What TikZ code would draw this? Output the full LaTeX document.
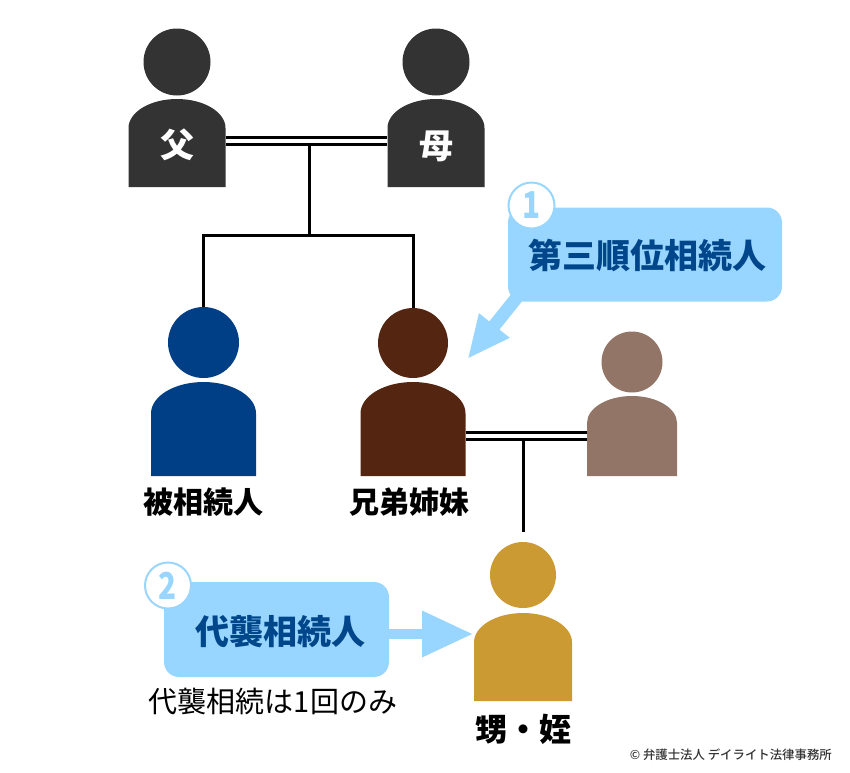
\documentclass[tikz,border=0pt]{standalone}
\usepackage{fontspec}
\newfontfamily\cjk{Noto Sans CJK JP}
\newfontfamily\cjkmedium{Noto Sans CJK JP Medium}
\usetikzlibrary{arrows.meta, calc, positioning}
\definecolor{darkgray}{RGB}{51,51,51}
\definecolor{deepblue}{RGB}{0,63,133}
\definecolor{darkbrown}{RGB}{84,37,17}
\definecolor{softbrown}{RGB}{146,117,103}
\definecolor{ochre}{RGB}{203,154,50}
\definecolor{skyblue}{RGB}{153,214,255}
\definecolor{navytext}{RGB}{0,70,139}
\tikzset{
    kinline/.style={line width=3pt, black},
    marriage/.style={line width=3pt, black, double=white, double distance=3.6pt},
    callout/.style={fill=skyblue, rounded corners=15pt, inner sep=0pt, minimum height=94pt},
    callouttext/.style={font=\cjk\bfseries\fontsize{34}{34}\selectfont, text=navytext, inner sep=0pt},
    badge/.style={circle, draw=skyblue, line width=2pt, fill=white, minimum size=46pt, inner sep=0pt, text=skyblue, font=\cjk\bfseries\fontsize{37}{37}\selectfont},
    kinlabel/.style={font=\cjk\bfseries\fontsize{30}{30}\selectfont, inner sep=0pt},
    bodylabel/.style={font=\cjk\bfseries\fontsize{34}{34}\selectfont, text=white, inner sep=0pt},
}
% name, centre x, head y, head radius, half width, body top, body bottom, colour
\newcommand{\person}[8]{
    \node[circle, fill=#8, minimum size=2*#4 pt, inner sep=0pt] (#1head) at (#2,#3) {};
    \pgfmathsetmacro{\shoulder}{0.6*#5}
    \fill[#8] (#2-#5,#7) -- (#2-#5,#6+\shoulder) arc[start angle=180, end angle=360, x radius=#5, y radius=\shoulder] -- (#2+#5,#7) -- cycle;
    \node[minimum width=2*#5 pt, minimum height=#7 pt-#6 pt, inner sep=0pt] (#1) at (#2,{(#6+#7)/2}) {};
}
\begin{document}
\begin{tikzpicture}[x=1pt, y=-1pt, >=Stealth]
    \useasboundingbox (0,0) rectangle (850,772);

    % People
    \person{father}{177}{62}{33.5}{48.5}{99}{187}{darkgray}
    \person{mother}{436}{62}{33.5}{48.5}{99}{187}{darkgray}
    \person{deceased}{203.5}{342.5}{35.5}{52.5}{382}{476}{deepblue}
    \person{sibling}{413}{343}{35}{52.5}{382}{476}{darkbrown}
    \person{spouse}{632}{362}{30.5}{45}{396}{476}{softbrown}
    \person{child}{523}{575}{33}{49}{613}{701}{ochre}

    % Labels on and under the people
    \node[bodylabel] (fatherlabel) at (177,145) {父};
    \node[bodylabel] (motherlabel) at (436,146) {母};
    \node[kinlabel] (deceasedlabel) at (203,502) {被相続人};
    \node[kinlabel] (siblinglabel) at (409,502) {兄弟姉妹};
    \node[kinlabel, font=\cjk\bfseries\fontsize{32}{32}\selectfont] (childlabel) at (523,729) {甥・姪};

    % Parents and their children
    \coordinate (parentsjoin) at (309,144);
    \coordinate (parentsfork) at (309,235.5);
    \draw[marriage] ([yshift=2pt]father.east) -- ([yshift=2pt]mother.west);
    \draw[kinline] (parentsjoin) -- (parentsfork);
    \draw[kinline] (deceasedhead.north) |- (parentsfork) -| (siblinghead.north);

    % Sibling, spouse and child
    \coordinate (spousejoin) at (523,438);
    \draw[marriage] (sibling.east |- spouse.east) -- (spouse.west);
    \draw[kinline, shorten >=10pt] (spousejoin) -- (childhead.north);

    % First callout
    \coordinate (thirdfoot) at (518,296);
    \coordinate (thirdtip) at (467.5,359);
    \draw[-{Triangle[length=43pt, width=36pt]}, line width=13pt, skyblue] (thirdfoot) -- (thirdtip);
    \node[callout, minimum width=274pt] (thirdbox) at (645,254.5) {};
    \node[callouttext] (thirdtext) at (647,255) {第三順位相続人};
    \node[badge] (thirdbadge) at (531.5,205.5) {\scalebox{.8}[1]{1}};

    % Second callout
    \coordinate (subtip) at (473,634);
    \node[callout, minimum width=225pt, minimum height=95pt] (subbox) at (276.5,629.5) {};
    \node[callouttext] (subtext) at (280,632) {代襲相続人};
    \draw[-{Triangle[length=51pt, width=44pt]}, line width=10pt, skyblue] (subtip -| subbox.east) -- (subtip);
    \node[badge] (subbadge) at (168,585.5) {\scalebox{.8}[1]{2}};
    \node[font=\cjk\fontsize{29}{29}\selectfont, inner sep=0pt] (subnote) at (273,701) {代襲相続は1回のみ};

    % Credit
    \node[font=\cjkmedium\fontsize{12.4}{13}\selectfont, text=darkgray, inner sep=0pt, anchor=east] (credit) at (832,755) {© 弁護士法人 デイライト法律事務所};
\end{tikzpicture}
\end{document}
